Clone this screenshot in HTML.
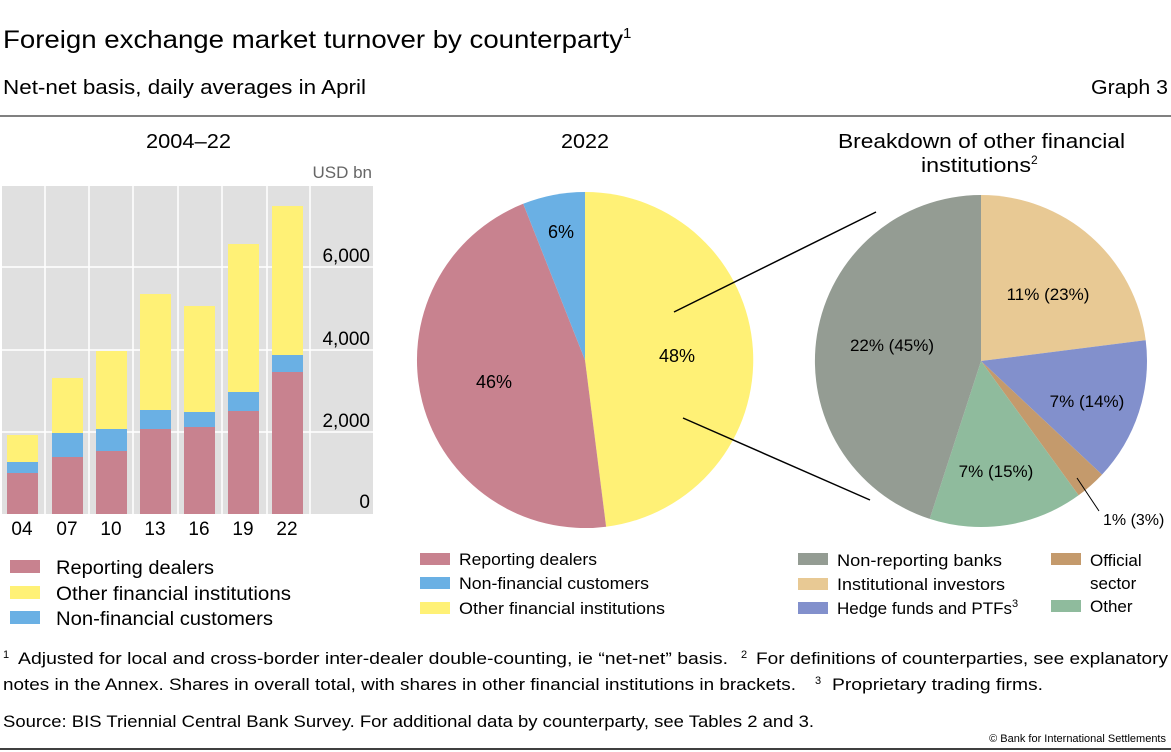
<!DOCTYPE html>
<html><head><meta charset="utf-8"><style>
body{margin:0;background:#fff;}
svg{display:block;font-family:"Liberation Sans",sans-serif;}
</style></head><body>
<svg width="1171" height="752" viewBox="0 0 1171 752" xmlns="http://www.w3.org/2000/svg">
<text x="3" y="48" font-size="25" fill="#000"><tspan textLength="620" lengthAdjust="spacingAndGlyphs">Foreign exchange market turnover by counterparty</tspan><tspan font-size="15" dy="-10">1</tspan></text>
<text x="3" y="94" font-size="20" fill="#000" textLength="363" lengthAdjust="spacingAndGlyphs">Net-net basis, daily averages in April</text>
<text x="1091" y="94" font-size="20" fill="#000" textLength="77" lengthAdjust="spacingAndGlyphs">Graph 3</text>
<line x1="0" y1="116" x2="1171" y2="116" stroke="#000" stroke-width="1"/>

<text x="146" y="148" font-size="20" textLength="85" lengthAdjust="spacingAndGlyphs">2004–22</text>
<text x="561" y="148" font-size="20" textLength="48" lengthAdjust="spacingAndGlyphs">2022</text>
<text x="838" y="148" font-size="20" textLength="287" lengthAdjust="spacingAndGlyphs">Breakdown of other financial</text>
<text x="921" y="172" font-size="20"><tspan textLength="110" lengthAdjust="spacingAndGlyphs">institutions</tspan><tspan font-size="12" dy="-8">2</tspan></text>

<!-- bar chart -->
<text x="372" y="178" font-size="17" fill="#666" text-anchor="end">USD bn</text>
<rect x="2" y="186" width="371" height="328" fill="#e0e0e0"/>
<g stroke="#fff" stroke-width="1.5">
<line x1="2" y1="267" x2="373" y2="267"/><line x1="2" y1="350" x2="373" y2="350"/><line x1="2" y1="432" x2="373" y2="432"/>
<line x1="45" y1="186" x2="45" y2="514"/><line x1="89" y1="186" x2="89" y2="514"/><line x1="133" y1="186" x2="133" y2="514"/><line x1="178" y1="186" x2="178" y2="514"/><line x1="222" y1="186" x2="222" y2="514"/><line x1="267" y1="186" x2="267" y2="514"/><line x1="310" y1="186" x2="310" y2="514"/>
</g>
<g>
<rect x="7" y="435" width="31" height="27" fill="#fff176"/><rect x="7" y="462" width="31" height="11" fill="#6ab0e4"/><rect x="7" y="473" width="31" height="41" fill="#c8828f"/>
<rect x="52" y="378" width="31" height="55" fill="#fff176"/><rect x="52" y="433" width="31" height="24" fill="#6ab0e4"/><rect x="52" y="457" width="31" height="57" fill="#c8828f"/>
<rect x="96" y="351" width="31" height="78" fill="#fff176"/><rect x="96" y="429" width="31" height="22" fill="#6ab0e4"/><rect x="96" y="451" width="31" height="63" fill="#c8828f"/>
<rect x="140" y="294" width="31" height="116" fill="#fff176"/><rect x="140" y="410" width="31" height="19" fill="#6ab0e4"/><rect x="140" y="429" width="31" height="85" fill="#c8828f"/>
<rect x="184" y="306" width="31" height="106" fill="#fff176"/><rect x="184" y="412" width="31" height="15" fill="#6ab0e4"/><rect x="184" y="427" width="31" height="87" fill="#c8828f"/>
<rect x="228" y="244" width="31" height="148" fill="#fff176"/><rect x="228" y="392" width="31" height="19" fill="#6ab0e4"/><rect x="228" y="411" width="31" height="103" fill="#c8828f"/>
<rect x="272" y="206" width="31" height="149" fill="#fff176"/><rect x="272" y="355" width="31" height="17" fill="#6ab0e4"/><rect x="272" y="372" width="31" height="142" fill="#c8828f"/>
</g>
<g font-size="19" text-anchor="end">
<text x="370" y="262">6,000</text><text x="370" y="345">4,000</text><text x="370" y="427">2,000</text><text x="370" y="508">0</text>
</g>
<g font-size="19" text-anchor="middle">
<text x="22" y="535">04</text><text x="67" y="535">07</text><text x="111" y="535">10</text><text x="155" y="535">13</text><text x="199" y="535">16</text><text x="243" y="535">19</text><text x="287" y="535">22</text>
</g>

<!-- pie 1 -->
<path d="M585,360 L585,192 A168,168 0 0 1 606.1,526.7 Z" fill="#fff176"/>
<path d="M585,360 L606.1,526.7 A168,168 0 0 1 523.2,203.8 Z" fill="#c8828f"/>
<path d="M585,360 L523.2,203.8 A168,168 0 0 1 585,192 Z" fill="#6ab0e4"/>
<g font-size="18" text-anchor="middle">
<text x="561" y="238">6%</text><text x="494" y="388">46%</text><text x="677" y="362">48%</text>
</g>
<line x1="674" y1="312" x2="876" y2="212" stroke="#000" stroke-width="1.5"/>
<line x1="683" y1="418" x2="870" y2="500" stroke="#000" stroke-width="1.5"/>

<!-- pie 2 -->
<path d="M981,361 L981,195 A166,166 0 0 1 1145.7,340.2 Z" fill="#e8c994"/>
<path d="M981,361 L1145.7,340.2 A166,166 0 0 1 1102,474.6 Z" fill="#8290cc"/>
<path d="M981,361 L1102,474.6 A166,166 0 0 1 1078.6,495.3 Z" fill="#c49a6c"/>
<path d="M981,361 L1078.6,495.3 A166,166 0 0 1 929.7,518.9 Z" fill="#8fbb9d"/>
<path d="M981,361 L929.7,518.9 A166,166 0 0 1 981,195 Z" fill="#949c93"/>
<g font-size="17" text-anchor="middle">
<text x="892" y="351">22% (45%)</text><text x="1048" y="300">11% (23%)</text><text x="1087" y="407">7% (14%)</text><text x="996" y="477">7% (15%)</text>
</g>
<line x1="1077" y1="478" x2="1099" y2="511" stroke="#000" stroke-width="1"/>
<text x="1103" y="525" font-size="16">1% (3%)</text>

<!-- legends -->
<g font-size="19">
<rect x="10" y="560" width="30" height="13" fill="#c8828f"/><text x="56" y="574" textLength="158" lengthAdjust="spacingAndGlyphs">Reporting dealers</text>
<rect x="10" y="586" width="30" height="13" fill="#fff176"/><text x="56" y="600" textLength="235" lengthAdjust="spacingAndGlyphs">Other financial institutions</text>
<rect x="10" y="611" width="30" height="13" fill="#6ab0e4"/><text x="56" y="625" textLength="217" lengthAdjust="spacingAndGlyphs">Non-financial customers</text>
</g>
<g font-size="17">
<rect x="420" y="553" width="30" height="12" fill="#c8828f"/><text x="459" y="565" textLength="138" lengthAdjust="spacingAndGlyphs">Reporting dealers</text>
<rect x="420" y="577" width="30" height="12" fill="#6ab0e4"/><text x="459" y="589" textLength="190" lengthAdjust="spacingAndGlyphs">Non-financial customers</text>
<rect x="420" y="602" width="30" height="12" fill="#fff176"/><text x="459" y="614" textLength="206" lengthAdjust="spacingAndGlyphs">Other financial institutions</text>
<rect x="798" y="553" width="30" height="12" fill="#949c93"/><text x="837" y="566" textLength="165" lengthAdjust="spacingAndGlyphs">Non-reporting banks</text>
<rect x="798" y="578" width="30" height="12" fill="#e8c994"/><text x="837" y="590" textLength="168" lengthAdjust="spacingAndGlyphs">Institutional investors</text>
<rect x="798" y="602" width="30" height="12" fill="#8290cc"/><text x="837" y="614"><tspan textLength="175" lengthAdjust="spacingAndGlyphs">Hedge funds and PTFs</tspan><tspan font-size="11" dy="-7">3</tspan></text>
<rect x="1051" y="553" width="30" height="12" fill="#c49a6c"/><text x="1090" y="566">Official</text><text x="1090" y="589">sector</text>
<rect x="1051" y="600" width="30" height="12" fill="#8fbb9d"/><text x="1090" y="612">Other</text>
</g>

<!-- footnotes -->
<g font-size="17">
<text x="3" y="658" font-size="11">1</text>
<text x="18" y="664" textLength="710" lengthAdjust="spacingAndGlyphs">Adjusted for local and cross-border inter-dealer double-counting, ie “net-net” basis.</text>
<text x="741" y="658" font-size="11">2</text>
<text x="756" y="664" textLength="412" lengthAdjust="spacingAndGlyphs">For definitions of counterparties, see explanatory</text>
<text x="3" y="690" textLength="793" lengthAdjust="spacingAndGlyphs">notes in the Annex. Shares in overall total, with shares in other financial institutions in brackets.</text>
<text x="815" y="684" font-size="11">3</text>
<text x="832" y="690" textLength="211" lengthAdjust="spacingAndGlyphs">Proprietary trading firms.</text>
<text x="3" y="727" textLength="811" lengthAdjust="spacingAndGlyphs">Source: BIS Triennial Central Bank Survey. For additional data by counterparty, see Tables 2 and 3.</text>
</g>
<text x="1166" y="742" font-size="11" text-anchor="end">© Bank for International Settlements</text>
<line x1="0" y1="749" x2="1171" y2="749" stroke="#000" stroke-width="1.5"/>
</svg>
</body></html>
